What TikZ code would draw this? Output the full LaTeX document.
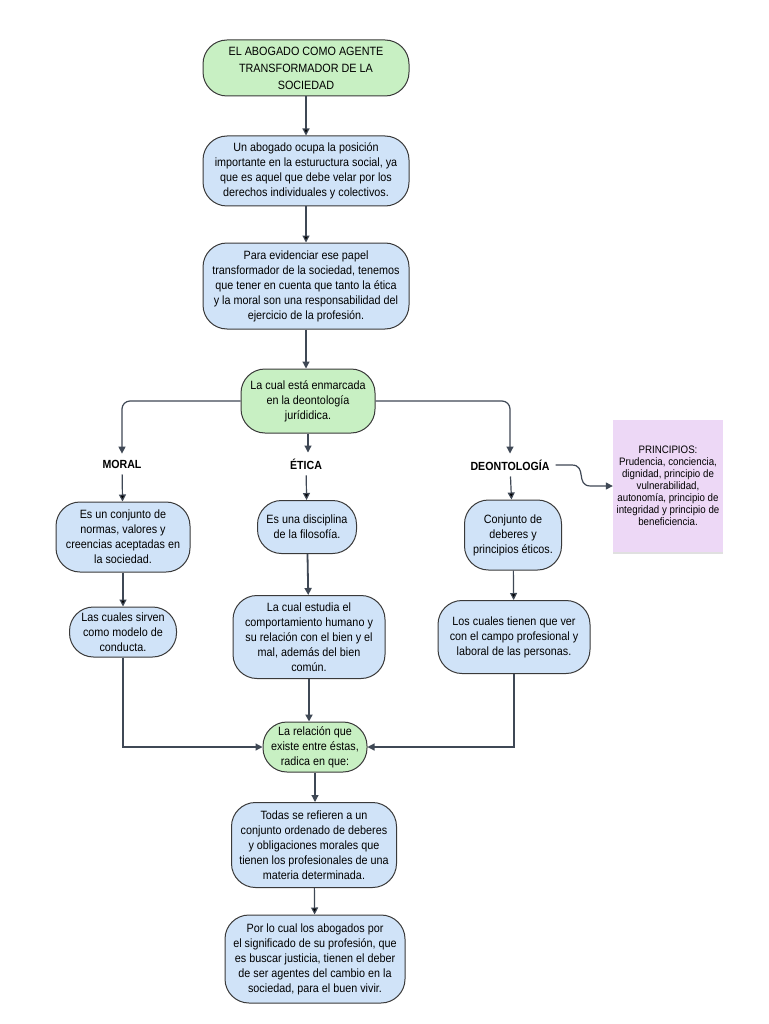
\documentclass[tikz,border=0pt]{standalone}
\usepackage{fontspec}
\setmainfont[FakeStretch=0.9]{Liberation Sans}
\usepackage{tikz}
\usetikzlibrary{arrows.meta,shadows}
\definecolor{verde}{HTML}{C8F0C3}
\definecolor{azul}{HTML}{D0E3F8}
\definecolor{lila}{HTML}{EDD8F6}
\definecolor{borde}{HTML}{3A3A3A}
\definecolor{gris}{HTML}{3F4855}

\begin{document}
\begin{tikzpicture}
[x=1pt, y=-1pt, font=\fontsize{12}{15}\selectfont,
% STYLES
every node/.style={align=center, inner sep=0pt},
% The caja style is used for the blue boxes of the chain
caja/.style={rectangle, rounded corners=24pt, draw=borde, line width=1pt, fill=azul},
% The tema style is used for the green boxes
tema/.style={caja, fill=verde},
% The rama style is used to write the three branch names
rama/.style={font=\bfseries\fontsize{11.8}{14}\selectfont, inner sep=6pt},
% The nota style is used for the side box
nota/.style={rectangle, fill=lila, font=\fontsize{10.8}{12}\selectfont,
  drop shadow={shadow xshift=0pt, shadow yshift=-2pt, opacity=0.2, fill=black!60}},
enlace/.style={->, >={Triangle[length=7pt,width=7pt]}, draw=gris, line width=1.2pt}]

\useasboundingbox[fill=white] (0,0) rectangle (768,1024);

% Draw main chain
\node [tema, minimum width=206, minimum height=56, font=\fontsize{12}{17}\selectfont] (titulo) at (306,68)
  {EL ABOGADO COMO AGENTE\\TRANSFORMADOR DE LA\\SOCIEDAD};
\node [caja, minimum width=206, minimum height=70] (posicion) at (306,171)
  {Un abogado ocupa la posición\\importante en la estuructura social, ya\\que es aquel que debe velar por los\\derechos individuales y colectivos.};
\node [caja, minimum width=206, minimum height=86] (papel) at (306,286)
  {Para evidenciar ese papel\\transformador de la sociedad, tenemos\\que tener en cuenta que tanto la ética\\y la moral son una responsabilidad del\\ejercicio de la profesión.};
\node [tema, minimum width=134, minimum height=64] (marco) at (308,401)
  {La cual está enmarcada\\en la deontología\\jurídidica.};

% Draw branches
\node [rama] (moral) at (122,464) {MORAL};
\node [rama] (etica) at (306,464) {ÉTICA};
\node [rama] (deonto) at (510,465) {DEONTOLOGÍA};

%%%%%%%%%%%%%%%
% moral
\node [caja, minimum width=134, minimum height=70] (conjunto) at (123,537)
  {Es un conjunto de\\normas, valores y\\creencias aceptadas en\\la sociedad.};
\node [caja, minimum width=107, minimum height=50] (sirven) at (123,632)
  {Las cuales sirven\\como modelo de\\conducta.};

% etica
\node [caja, minimum width=99, minimum height=53] (disciplina) at (307,527)
  {Es una disciplina\\de la filosofía.};
\node [caja, minimum width=152, minimum height=83] (estudia) at (309,637)
  {La cual estudia el\\comportamiento humano y\\su relación con el bien y el\\mal, además del bien\\común.};

% deontologia
\node [caja, minimum width=97, minimum height=70] (deberes) at (513,535)
  {Conjunto de\\deberes y\\principios éticos.};
\node [caja, minimum width=152, minimum height=73] (campo) at (514,637)
  {Los cuales tienen que ver\\con el campo profesional y\\laboral de las personas.};
\node [nota, minimum width=110, minimum height=132] (principios) at (668,486)
  {PRINCIPIOS:\\Prudencia, conciencia,\\dignidad, principio de\\vulnerabilidad,\\autonomía, principio de\\integridad y principio de\\beneficiencia.};

% relacion
\node [tema, minimum width=104, minimum height=50] (relacion) at (315,747)
  {La relación que\\existe entre éstas,\\radica en que:};
\node [caja, minimum width=165, minimum height=85] (todas) at (314,845)
  {Todas se refieren a un\\conjunto ordenado de deberes\\y obligaciones morales que\\tienen los profesionales de una\\materia determinada.};
\node [caja, minimum width=180, minimum height=88] (porlo) at (315,959)
  {Por lo cual los abogados por\\el significado de su profesión, que\\es buscar justicia, tienen el deber\\de ser agentes del cambio en la\\sociedad, para el buen vivir.};
%%%%%%%%%%%%%%%%

% Draw the links between boxes
\path[enlace]
(titulo) edge (posicion)
(posicion) edge (papel)
(moral) edge (conjunto)
(etica) edge (disciplina)
(deonto) edge (deberes)
(conjunto) edge (sirven)
(deberes) edge (campo)
(todas) edge (porlo);

\draw[enlace] (papel.south) -- (papel.south |- marco.north);
\draw[enlace] (marco.south) -- (marco.south |- etica.north);
\draw[enlace] (relacion.south) -- (relacion.south |- todas.north);
\draw[enlace, line width=1.8pt] (disciplina) -- (estudia);
\draw[enlace, line width=1.8pt] (estudia.south) -- (estudia.south |- relacion.north);
\draw[enlace, rounded corners=8pt] (marco.west) -| (moral.north);
\draw[enlace, rounded corners=8pt] (marco.east) -| (deonto.north);
\draw[enlace] (sirven.south) |- (relacion.west);
\draw[enlace] (campo.south) |- (relacion.east);
\draw[enlace] (deonto.east) -- ++(16,0) .. controls +(16,0) and +(-16,0) .. ([xshift=-22pt]principios.west) -- (principios.west);

\end{tikzpicture}
\end{document}
